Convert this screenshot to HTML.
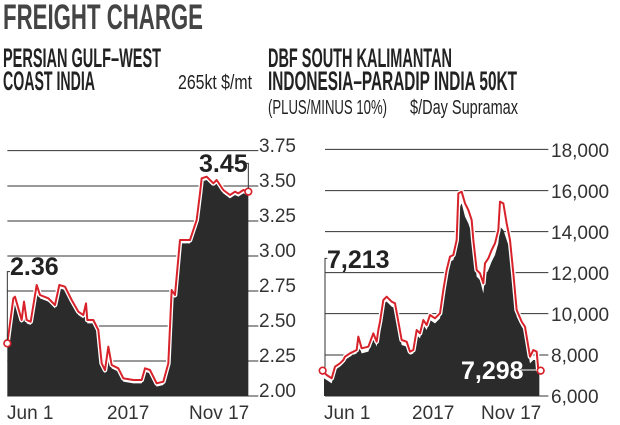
<!DOCTYPE html>
<html><head><meta charset="utf-8"><style>
html,body{margin:0;padding:0;background:#fff;}
svg{display:block;}
text{font-family:"Liberation Sans Narrow","Liberation Sans",sans-serif;}
</style></head><body>
<svg width="620" height="425" viewBox="0 0 620 425" xmlns="http://www.w3.org/2000/svg">
<text x="3" y="29" font-size="35" font-weight="bold" fill="#444" textLength="200" lengthAdjust="spacingAndGlyphs">FREIGHT CHARGE</text>
<text x="3" y="67" font-size="27" font-weight="bold" fill="#222" textLength="158" lengthAdjust="spacingAndGlyphs">PERSIAN GULF–WEST</text>
<text x="3" y="90" font-size="27" font-weight="bold" fill="#222" textLength="92" lengthAdjust="spacingAndGlyphs">COAST INDIA</text>
<text x="178" y="89" font-size="20" fill="#222" textLength="74" lengthAdjust="spacingAndGlyphs">265kt $/mt</text>
<text x="268" y="67" font-size="27" font-weight="bold" fill="#222" textLength="184" lengthAdjust="spacingAndGlyphs">DBF SOUTH KALIMANTAN</text>
<text x="268" y="90" font-size="27" font-weight="bold" fill="#222" textLength="249" lengthAdjust="spacingAndGlyphs">INDONESIA–PARADIP INDIA 50KT</text>
<text x="268" y="114" font-size="20" fill="#222" textLength="119" lengthAdjust="spacingAndGlyphs">(PLUS/MINUS 10%)</text>
<text x="410" y="114" font-size="20" fill="#222" textLength="108" lengthAdjust="spacingAndGlyphs">$/Day Supramax</text>

<!-- LEFT CHART -->
<g transform="translate(0,130) scale(0.33333)">
 <g stroke="#333" stroke-width="3">
  <line x1="22" y1="62" x2="775" y2="62"/><line x1="22" y1="168" x2="775" y2="168"/>
  <line x1="22" y1="273" x2="775" y2="273"/><line x1="22" y1="378" x2="775" y2="378"/>
  <line x1="22" y1="483" x2="775" y2="483"/><line x1="22" y1="588" x2="775" y2="588"/>
  <line x1="22" y1="693" x2="775" y2="693"/><line x1="22" y1="798" x2="775" y2="798"/>
 </g>
 <polygon fill="#2b2b2b" points="22,650 40,515 45,510 65,580 72,525 80,580 92,585 110,475 120,505 145,515 165,535 178,475 195,480 215,520 235,555 250,565 258,530 262,580 280,580 295,610 305,710 315,730 325,660 335,715 355,725 370,755 400,760 425,760 435,725 450,730 470,770 490,765 505,710 515,490 525,505 540,340 570,340 590,280 600,200 605,155 620,150 640,170 650,160 670,190 690,205 705,195 715,200 730,190 745,195 745,798 22,798"/>
 <polyline fill="none" stroke="#fff" stroke-width="14" stroke-linejoin="round" points="22,640 40,505 45,500 65,570 72,515 80,570 92,575 110,465 120,495 145,505 165,525 178,465 195,470 215,510 235,545 250,555 258,520 262,570 280,570 295,600 305,700 315,720 325,650 335,705 355,715 370,745 400,750 425,750 435,715 450,720 470,760 490,755 505,700 515,480 525,495 540,330 570,330 590,270 600,190 605,145 620,140 640,160 650,150 670,180 690,195 705,185 715,190 730,180 745,185"/>
 <polyline fill="none" stroke="#d8222a" stroke-width="6" stroke-linejoin="round" points="22,640 40,505 45,500 65,570 72,515 80,570 92,575 110,465 120,495 145,505 165,525 178,465 195,470 215,510 235,545 250,555 258,520 262,570 280,570 295,600 305,700 315,720 325,650 335,705 355,715 370,745 400,750 425,750 435,715 450,720 470,760 490,755 505,700 515,480 525,495 540,330 570,330 590,270 600,190 605,145 620,140 640,160 650,150 670,180 690,195 705,185 715,190 730,180 745,185"/>
 <circle cx="22" cy="640" r="10" fill="#fff" stroke="#d8222a" stroke-width="5"/>
 <circle cx="745" cy="185" r="10" fill="#fff" stroke="#d8222a" stroke-width="5"/>
 <polyline fill="none" stroke="#333" stroke-width="3" points="22,630 22,425 30,425"/>
 <polyline fill="none" stroke="#333" stroke-width="3" points="736,100 745,100 745,175"/>
</g>
<text x="10" y="275" font-size="25" font-weight="bold" fill="#222">2.36</text>
<text x="199" y="172" font-size="25" font-weight="bold" fill="#222">3.45</text>
<g font-size="19" fill="#333">
 <text x="259" y="152">3.75</text><text x="259" y="187">3.50</text>
 <text x="259" y="222">3.25</text><text x="259" y="257">3.00</text>
 <text x="259" y="292">2.75</text><text x="259" y="327">2.50</text>
 <text x="259" y="362">2.25</text><text x="259" y="397">2.00</text>
 <text x="7" y="419">Jun 1</text><text x="107" y="419">2017</text><text x="189" y="419">Nov 17</text>
</g>

<!-- RIGHT CHART -->
<g transform="translate(310,130) scale(0.33333)">
 <g stroke="#333" stroke-width="3">
  <line x1="45" y1="58" x2="715" y2="58"/><line x1="45" y1="182" x2="715" y2="182"/>
  <line x1="45" y1="305" x2="715" y2="305"/><line x1="45" y1="428" x2="715" y2="428"/>
  <line x1="45" y1="551" x2="715" y2="551"/><line x1="45" y1="675" x2="715" y2="675"/>
  <line x1="45" y1="798" x2="715" y2="798"/>
 </g>
 <polygon fill="#2b2b2b" points="42,745 50,750 65,760 75,720 90,710 100,700 105,690 120,680 140,670 145,640 155,670 175,665 190,625 200,650 205,615 210,590 220,520 230,515 245,530 255,535 265,595 275,645 290,650 300,675 310,670 320,615 330,625 340,585 350,600 360,570 375,580 390,565 400,500 410,440 420,395 430,390 440,350 445,240 455,220 465,260 475,280 485,310 490,360 500,440 510,450 520,490 525,440 535,420 545,395 555,375 565,340 570,290 580,300 590,330 600,360 610,450 620,560 635,590 645,605 650,640 660,700 670,690 680,690 688,735 688,798 42,798"/>
 <polyline fill="none" stroke="#fff" stroke-width="14" stroke-linejoin="round" points="38,722 50,735 65,745 75,710 90,700 100,690 105,680 120,670 140,660 145,620 155,655 175,650 190,610 200,635 205,600 210,575 220,510 230,500 245,515 255,520 265,575 275,630 290,635 300,665 310,660 320,600 330,610 340,570 350,585 360,555 375,565 390,550 400,480 410,420 420,380 430,375 440,330 445,190 455,185 465,220 475,240 485,270 490,330 500,420 510,430 520,460 525,400 535,385 545,360 555,340 565,300 570,215 580,220 590,280 600,330 610,430 620,540 635,575 645,590 650,620 660,680 670,660 680,665 685,720 695,722"/>
 <polyline fill="none" stroke="#d8222a" stroke-width="6" stroke-linejoin="round" points="38,722 50,735 65,745 75,710 90,700 100,690 105,680 120,670 140,660 145,620 155,655 175,650 190,610 200,635 205,600 210,575 220,510 230,500 245,515 255,520 265,575 275,630 290,635 300,665 310,660 320,600 330,610 340,570 350,585 360,555 375,565 390,550 400,480 410,420 420,380 430,375 440,330 445,190 455,185 465,220 475,240 485,270 490,330 500,420 510,430 520,460 525,400 535,385 545,360 555,340 565,300 570,215 580,220 590,280 600,330 610,430 620,540 635,575 645,590 650,620 660,680 670,660 680,665 685,720 695,722"/>
 <circle cx="38" cy="722" r="10" fill="#fff" stroke="#d8222a" stroke-width="5"/>
 <circle cx="692" cy="722" r="10" fill="#fff" stroke="#d8222a" stroke-width="5"/>
 <polyline fill="none" stroke="#333" stroke-width="3" points="45,712 45,385 52,385"/>
 <line x1="632" y1="720" x2="680" y2="720" stroke="#fff" stroke-width="3"/>
</g>
<text x="327" y="268" font-size="25" font-weight="bold" fill="#222">7,213</text>
<text x="461" y="379" font-size="25" font-weight="bold" fill="#fff">7,298</text>
<g font-size="19" fill="#333">
 <text x="551" y="157">18,000</text><text x="551" y="198">16,000</text>
 <text x="551" y="239">14,000</text><text x="551" y="280">12,000</text>
 <text x="551" y="321">10,000</text><text x="551" y="362">8,000</text>
 <text x="551" y="403">6,000</text>
 <text x="324" y="419">Jun 1</text><text x="412" y="419">2017</text><text x="481" y="419">Nov 17</text>
</g>
</svg>
</body></html>
